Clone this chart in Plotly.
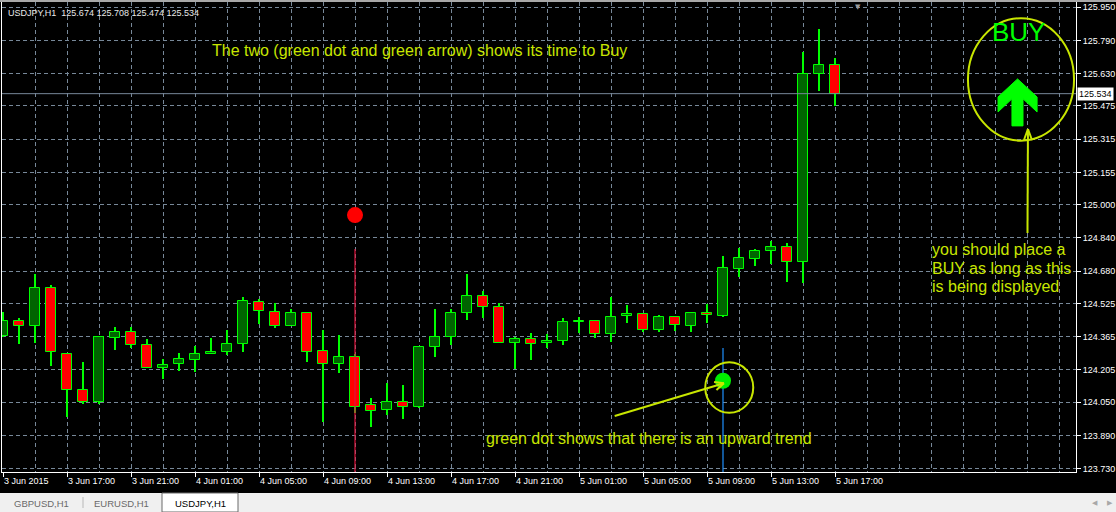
import plotly.graph_objects as go

# USDJPY H1 bars, 3 Jun 2015 13:00 .. 5 Jun 2015 17:00
opens = [124.367, 124.439, 124.415, 124.598, 124.280, 124.107, 124.049, 124.360, 124.386, 124.323,
         124.213, 124.232, 124.251, 124.280, 124.290, 124.328, 124.530, 124.482, 124.418, 124.477,
         124.295, 124.235, 124.266, 124.035, 124.011, 124.049, 124.025, 124.314, 124.362, 124.477,
         124.559, 124.506, 124.336, 124.354, 124.333, 124.343, 124.434, 124.440, 124.376, 124.463,
         124.474, 124.399, 124.460, 124.418, 124.479, 124.466, 124.692, 124.740, 124.776, 124.795,
         124.726, 125.627, 125.674]
highs = [124.482, 124.453, 124.667, 124.614, 124.282, 124.243, 124.363, 124.412, 124.412, 124.354,
         124.259, 124.285, 124.319, 124.357, 124.396, 124.554, 124.545, 124.526, 124.497, 124.484,
         124.397, 124.373, 124.280, 124.068, 124.143, 124.131, 124.315, 124.498, 124.497, 124.667,
         124.583, 124.526, 124.363, 124.383, 124.378, 124.455, 124.461, 124.441, 124.556, 124.516,
         124.475, 124.469, 124.461, 124.480, 124.522, 124.753, 124.792, 124.787, 124.827, 124.816,
         125.733, 125.845, 125.708]
lows = [124.363, 124.331, 124.336, 124.225, 123.980, 124.041, 124.041, 124.302, 124.312, 124.213,
        124.160, 124.198, 124.194, 124.280, 124.275, 124.290, 124.425, 124.408, 124.418, 124.243,
        123.954, 124.192, 124.000, 123.930, 123.988, 123.970, 124.020, 124.269, 124.325, 124.447,
        124.453, 124.336, 124.209, 124.254, 124.309, 124.326, 124.383, 124.360, 124.339, 124.432,
        124.389, 124.389, 124.394, 124.389, 124.429, 124.461, 124.654, 124.705, 124.715, 124.628,
        124.623, 125.549, 125.474]
closes = [124.439, 124.415, 124.598, 124.290, 124.107, 124.049, 124.362, 124.386, 124.323, 124.213,
          124.227, 124.256, 124.280, 124.290, 124.328, 124.535, 124.487, 124.418, 124.477, 124.293,
          124.235, 124.266, 124.028, 124.006, 124.049, 124.025, 124.314, 124.362, 124.477, 124.559,
          124.506, 124.336, 124.354, 124.331, 124.344, 124.436, 124.440, 124.376, 124.460, 124.474,
          124.399, 124.460, 124.420, 124.479, 124.468, 124.694, 124.744, 124.777, 124.795, 124.726,
          125.627, 125.671, 125.534]

time_labels = ["3 Jun 2015", "3 Jun 17:00", "3 Jun 21:00", "4 Jun 01:00", "4 Jun 05:00",
               "4 Jun 09:00", "4 Jun 13:00", "4 Jun 17:00", "4 Jun 21:00", "5 Jun 01:00",
               "5 Jun 05:00", "5 Jun 09:00", "5 Jun 13:00", "5 Jun 17:00"]

price_ticks = [125.950, 125.790, 125.630, 125.475, 125.315, 125.155, 125.000, 124.840,
               124.680, 124.525, 124.365, 124.205, 124.050, 123.890, 123.730]

last_price = 125.534

# indicator signals: bar index, dot level, top of the vertical marker line
sell_bar, sell_dot, sell_line_top = 22, 124.950, 124.787
buy_bar, buy_dot, buy_line_top = 45, 124.153, 124.310

Y_MIN, Y_MAX = 123.714, 125.975
X_MIN, X_MAX = -0.0625, 67.0625

GRID = "#778899"
LIME = "#00ff00"
NOTE = "#c8e600"
TEXT_FONT = "Liberation Sans, Arial, sans-serif"

bars = list(range(len(opens)))
bull = [c >= o for o, c in zip(opens, closes)]

fig = go.Figure()

# wicks (thin bars so the bodies sit on top of them)
fig.add_trace(go.Bar(
    x=bars, base=lows, y=[h - l for h, l in zip(highs, lows)],
    width=0.07, marker=dict(color=LIME, line=dict(width=0)),
    hoverinfo="skip",
))
# bodies
fig.add_trace(go.Bar(
    x=bars,
    base=[min(o, c) for o, c in zip(opens, closes)],
    y=[abs(c - o) for o, c in zip(opens, closes)],
    width=0.6,
    marker=dict(color=["#006400" if b else "#ff0000" for b in bull],
                line=dict(color=LIME, width=1)),
    customdata=list(zip(opens, highs, lows, closes)),
    hovertemplate="O %{customdata[0]:.3f}<br>H %{customdata[1]:.3f}<br>"
                  "L %{customdata[2]:.3f}<br>C %{customdata[3]:.3f}<extra></extra>",
))

# signal marker lines + dots
fig.add_trace(go.Scatter(x=[sell_bar, sell_bar], y=[sell_line_top, Y_MIN], mode="lines",
                         line=dict(color="#e0143c", width=1.2), hoverinfo="skip"))
fig.add_trace(go.Scatter(x=[buy_bar, buy_bar], y=[buy_line_top, Y_MIN], mode="lines",
                         line=dict(color="#1e90ff", width=1.2), hoverinfo="skip"))
fig.add_trace(go.Scatter(x=[sell_bar], y=[sell_dot], mode="markers",
                         marker=dict(color="#ff0000", size=16, line=dict(width=0))))
fig.add_trace(go.Scatter(x=[buy_bar], y=[buy_dot], mode="markers",
                         marker=dict(color="#00ee00", size=16, line=dict(width=0))))

# bid line
fig.add_shape(type="line", xref="paper", x0=0, x1=1, y0=last_price, y1=last_price,
              line=dict(color=GRID, width=1))

# hand drawn objects (anchored in bar / price coordinates like MT4 objects)
fig.add_shape(type="circle", x0=43.89, x1=46.89, y0=123.999, y1=124.242,
              line=dict(color=NOTE, width=2))
fig.add_shape(type="circle", x0=60.31, x1=66.94, y0=125.308, y1=125.897,
              line=dict(color=NOTE, width=2))
for seg in [
    (38.23, 123.983, 45.06, 124.141), (44.44, 124.147, 45.06, 124.141), (44.59, 124.108, 45.06, 124.141),
    (64.03, 124.864, 64.06, 125.364), (63.81, 125.311, 64.06, 125.364), (64.31, 125.311, 64.06, 125.364),
]:
    fig.add_shape(type="line", x0=seg[0], y0=seg[1], x1=seg[2], y1=seg[3],
                  line=dict(color=NOTE, width=2))

# big green up arrow
arrow_pts = [(63.41, 125.605), (64.63, 125.518), (64.63, 125.446), (63.75, 125.509), (63.75, 125.379),
             (63.06, 125.379), (63.06, 125.509), (62.19, 125.446), (62.19, 125.518)]
path = "M " + " L ".join(f"{x},{y}" for x, y in arrow_pts) + " Z"
fig.add_shape(type="path", path=path, fillcolor=LIME, line=dict(color=LIME, width=1))

notes = [
    (12.94, 125.744, "The two (green dot and green arrow) shows its time to Buy"),
    (30.06, 123.873, "green dot shows that there is an upward trend"),
    (57.94, 124.782, "you should place a"),
    (57.94, 124.693, "BUY as long as this"),
    (57.94, 124.604, "is being displayed"),
]
for nx, ny, txt in notes:
    fig.add_annotation(x=nx, y=ny, text=txt, xanchor="left", yanchor="middle", showarrow=False,
                       font=dict(family=TEXT_FONT, size=16, color=NOTE))
fig.add_annotation(x=63.44, y=125.831, text="BUY", showarrow=False,
                   font=dict(family=TEXT_FONT, size=26, color=LIME))

# header text
fig.add_annotation(xref="paper", yref="paper", x=0, y=1, xanchor="left", yanchor="top", xshift=4, yshift=-4,
                   text="USDJPY,H1  125.674 125.708 125.474 125.534", showarrow=False,
                   font=dict(size=9, color="#e8e8e8"))
# current price tag
fig.add_annotation(xref="paper", x=1, y=last_price, xanchor="left", yanchor="middle", xshift=1,
                   text=f"{last_price:.3f}", showarrow=False, bgcolor="white", borderpad=1,
                   font=dict(size=9, color="black"))
# chart shift marker
fig.add_annotation(x=53.44, xref="x", yref="paper", y=1, yanchor="top", yshift=1, text="▼",
                   showarrow=False, font=dict(family="DejaVu Sans", size=7, color="#9a9a9a"))


# window chrome below the chart (pixel helpers for the tab strip)
def px(X):
    return (X - 2) / 1074


def py(Y):
    return (472 - Y) / 470


fig.add_shape(type="rect", xref="paper", yref="paper", x0=px(0), x1=px(1116), y0=py(512), y1=py(493),
              fillcolor="#f0f0f0", line=dict(width=0), layer="above")
fig.add_shape(type="rect", xref="paper", yref="paper", x0=px(162), x1=px(238), y0=py(512), y1=py(493),
              fillcolor="white", line=dict(color="#6a6a6a", width=1), layer="above")
fig.add_shape(type="line", xref="paper", yref="paper", x0=px(83), x1=px(83), y0=py(508), y1=py(497),
              line=dict(color="#b8b8b8", width=1), layer="above")
fig.add_shape(type="rect", xref="paper", yref="paper", x0=px(0), x1=px(1116), y0=py(2), y1=py(0),
              fillcolor="#a8a8a8", line=dict(width=0), layer="above")
for label, X, col in [("GBPUSD,H1", 41, "#6a6a6a"), ("EURUSD,H1", 122, "#6a6a6a"), ("USDJPY,H1", 200, "#000000")]:
    fig.add_annotation(xref="paper", yref="paper", x=px(X), y=py(503), xanchor="center", yanchor="middle",
                       text=label, showarrow=False, font=dict(size=9.5, color=col))
for sym, X in [("◀", 1095), ("▶", 1110)]:
    fig.add_annotation(xref="paper", yref="paper", x=px(X), y=py(503), xanchor="center", yanchor="middle",
                       text=sym, showarrow=False, font=dict(family="DejaVu Sans", size=7, color="#a8a8a8"))

fig.update_layout(
    width=1116, height=512,
    margin=dict(l=2, r=40, t=2, b=40),
    paper_bgcolor="black", plot_bgcolor="black",
    barmode="overlay", bargap=0, showlegend=False,
    font=dict(family=TEXT_FONT, size=9, color="white"),
    hoverlabel=dict(bgcolor="#1a1a1a", font=dict(color="white")),
)
fig.update_xaxes(
    range=[X_MIN, X_MAX], tickmode="array",
    tickvals=list(range(0, len(opens), 4)), ticktext=time_labels,
    ticks="outside", ticklen=4, tickcolor="white", ticklabelposition="outside right",
    showgrid=True, gridcolor=GRID, griddash="4px,3px", gridwidth=1,
    minor=dict(tickmode="linear", tick0=0, dtick=2, showgrid=True, gridcolor=GRID,
               griddash="4px,3px", gridwidth=1, ticks=""),
    showline=True, linecolor="white", linewidth=1, mirror=True, zeroline=False, automargin=False,
)
fig.update_yaxes(
    side="right", range=[Y_MIN, Y_MAX], tickmode="array",
    tickvals=price_ticks, ticktext=[f"{v:.3f}" for v in price_ticks],
    ticks="outside", ticklen=4, tickcolor="white",
    showgrid=True, gridcolor=GRID, griddash="4px,3px", gridwidth=1,
    showline=True, linecolor="white", linewidth=1, mirror=True, zeroline=False, automargin=False,
)

fig.write_html(
    "out.html",
    config={"displayModeBar": False},
    post_script="document.body.style.margin='0';document.body.style.overflow='hidden';",
)
